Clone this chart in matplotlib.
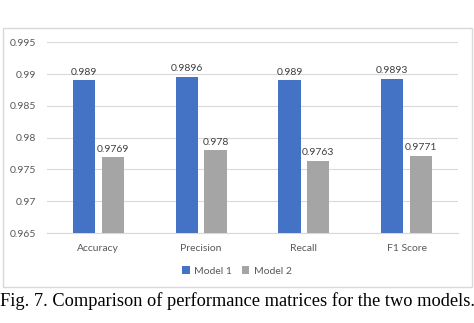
import matplotlib
matplotlib.use("Agg")
import matplotlib.pyplot as plt
from matplotlib.patches import Rectangle
import numpy as np

categories = ["Accuracy", "Precision", "Recall", "F1 Score"]
model1 = [0.989, 0.9896, 0.989, 0.9893]
model2 = [0.9769, 0.978, 0.9763, 0.9771]
labels1 = ["0.989", "0.9896", "0.989", "0.9893"]
labels2 = ["0.9769", "0.978", "0.9763", "0.9771"]
yticks = [0.965, 0.97, 0.975, 0.98, 0.985, 0.99, 0.995]
ytick_labels = ["0.965", "0.97", "0.975", "0.98", "0.985", "0.99", "0.995"]
series_names = ["Model 1", "Model 2"]
caption = "Fig. 7. Comparison of performance matrices for the two models."

W, H = 474, 323
fig = plt.figure(figsize=(W / 100, H / 100), dpi=100)
fig.patch.set_facecolor("white")

# chart frame
fig.patches.append(Rectangle((3 / W, 1 - 287 / H), 469 / W, 259 / H,
                             transform=fig.transFigure, fill=False,
                             edgecolor="#D9D9D9", linewidth=1.0))

ax = fig.add_axes([47 / W, 1 - 233 / H, 411 / W, (233 - 42.3) / H])
font = "Lato"
tc = "#595959"
blue = "#4472C4"
gray = "#A5A5A5"

x = np.arange(len(categories))
bw = 0.215
off = 0.14
b1 = ax.bar(x - off, model1, bw, color=blue, label=series_names[0], zorder=3)
b2 = ax.bar(x + off, model2, bw, color=gray, label=series_names[1], zorder=3)

for xi, v, s in zip(x - off, model1, labels1):
    ax.text(xi, v + 0.0006, s, ha="center", va="bottom", fontsize=7.5,
            color="#404040", family=font)
for xi, v, s in zip(x + off, model2, labels2):
    ax.text(xi, v + 0.0006, s, ha="center", va="bottom", fontsize=7.5,
            color="#404040", family=font)

ax.set_xlim(-0.5, len(categories) - 0.5)
ax.set_ylim(0.965, 0.995)
ax.set_yticks(yticks)
ax.set_yticklabels(ytick_labels, fontsize=7.5, color=tc, family=font)
ax.set_xticks(x)
ax.set_xticklabels(categories, fontsize=7.5, color=tc, family=font)
ax.tick_params(length=0, pad=8)
ax.tick_params(axis="y", pad=8)
for sp in ax.spines.values():
    sp.set_visible(False)
ax.spines["bottom"].set_visible(True)
ax.spines["bottom"].set_color("#D9D9D9")
ax.yaxis.grid(True, color="#D9D9D9", linewidth=0.8, zorder=0)
ax.set_axisbelow(True)

leg = fig.legend(handles=[b1, b2], labels=series_names, loc="center",
                 bbox_to_anchor=(237 / W, 1 - 271 / H), ncol=2, frameon=False,
                 prop={"family": font, "size": 7.5}, handlelength=0.7,
                 handleheight=0.7, handletextpad=0.4, columnspacing=1.0)
for t in leg.get_texts():
    t.set_color(tc)

fig.text(237 / W, 1 - 301 / H, caption, ha="center", va="center",
         fontsize=13.2, family="Liberation Serif", color="black")

fig.savefig("out.png", dpi=100)
